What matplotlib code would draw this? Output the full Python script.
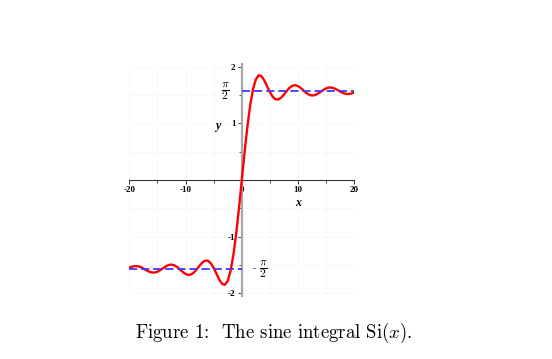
import matplotlib
matplotlib.use("Agg")
import matplotlib.pyplot as plt
from matplotlib.ticker import FixedLocator, FixedFormatter

# Sine integral Si(x), values at 0.5 steps
x_vals = [-20.0, -19.5, -19.0, -18.5, -18.0, -17.5, -17.0, -16.5, -16.0, -15.5,
          -15.0, -14.5, -14.0, -13.5, -13.0, -12.5, -12.0, -11.5, -11.0, -10.5,
          -10.0, -9.5, -9.0, -8.5, -8.0, -7.5, -7.0, -6.5, -6.0, -5.5,
          -5.0, -4.5, -4.0, -3.5, -3.0, -2.5, -2.0, -1.5, -1.0, -0.5,
          0.0, 0.5, 1.0, 1.5, 2.0, 2.5, 3.0, 3.5, 4.0, 4.5,
          5.0, 5.5, 6.0, 6.5, 7.0, 7.5, 8.0, 8.5, 9.0, 9.5,
          10.0, 10.5, 11.0, 11.5, 12.0, 12.5, 13.0, 13.5, 14.0, 14.5,
          15.0, 15.5, 16.0, 16.5, 17.0, 17.5, 18.0, 18.5, 19.0, 19.5, 20.0]
si_vals = [-1.548, -1.528, -1.518, -1.521, -1.536, -1.561, -1.590, -1.616, -1.631, -1.633,
           -1.618, -1.590, -1.556, -1.524, -1.499, -1.492, -1.505, -1.535, -1.578, -1.622,
           -1.658, -1.675, -1.665, -1.630, -1.574, -1.511, -1.455, -1.422, -1.425, -1.469,
           -1.550, -1.654, -1.758, -1.833, -1.849, -1.779, -1.605, -1.325, -0.946, -0.493,
           0.000, 0.493, 0.946, 1.325, 1.605, 1.779, 1.849, 1.833, 1.758, 1.654,
           1.550, 1.469, 1.425, 1.422, 1.455, 1.511, 1.574, 1.630, 1.665, 1.675,
           1.658, 1.622, 1.578, 1.535, 1.505, 1.492, 1.499, 1.524, 1.556, 1.590,
           1.618, 1.633, 1.631, 1.616, 1.590, 1.561, 1.536, 1.521, 1.518, 1.528, 1.548]

# asymptotes  y = +pi/2 (x from 0 to 20), y = -pi/2 (x from -20 to 0)
half_pi = 1.5708
asym_upper_x = [0, 20]
asym_lower_x = [-20, 0]

x_major = [-20, -10, 0, 10, 20]
x_major_labels = ["-20", "-10", "0", "10", "20"]
x_minor = [-15, -5, 5, 15]
y_major = [-2, -1, 1, 2]
y_major_labels = ["-2", "-1", "1", "2"]
y_minor = [-1.5, -0.5, 0.5, 1.5]

caption = "Figure 1:  The sine integral Si$(x)$."

plt.rcParams['axes.unicode_minus'] = False
plt.rcParams['mathtext.fontset'] = 'cm'

fig = plt.figure(figsize=(5.52, 3.59), dpi=100)
W, H = 552, 359
left_px, right_px = 129.3, 354.3
top_px, bot_px = 63.9, 296.2
ax = fig.add_axes([left_px / W, 1 - bot_px / H, (right_px - left_px) / W, (bot_px - top_px) / H])
ax.set_xlim(-20, 20)
ax.set_ylim(-2.05, 2.05)

# faint grid
for gx in [-20, -15, -10, -5, 5, 10, 15, 20]:
    ax.axvline(gx, color='#f7f7f7', lw=0.6, zorder=0)
for gy in [-2, -1.5, -1, -0.5, 0.5, 1, 1.5, 2]:
    ax.axhline(gy, color='#f7f7f7', lw=0.6, zorder=0)

for s in ['top', 'right']:
    ax.spines[s].set_visible(False)
ax.spines['bottom'].set_position(('data', 0))
ax.spines['left'].set_position(('data', 0))
ax.spines['bottom'].set_color('#333333')
ax.spines['bottom'].set_linewidth(0.8)
ax.spines['left'].set_color('#a8a8a8')
ax.spines['left'].set_linewidth(1.6)

ax.xaxis.set_major_locator(FixedLocator(x_major))
ax.xaxis.set_major_formatter(FixedFormatter(x_major_labels))
ax.xaxis.set_minor_locator(FixedLocator(x_minor))
ax.yaxis.set_major_locator(FixedLocator(y_major))
ax.yaxis.set_major_formatter(FixedFormatter(y_major_labels))
ax.yaxis.set_minor_locator(FixedLocator(y_minor))

ax.tick_params(axis='x', which='major', direction='out', length=3, width=0.7, color='#333333', pad=1.5)
ax.tick_params(axis='x', which='minor', direction='out', length=2, width=0.6, color='#333333')
ax.tick_params(axis='y', which='major', direction='out', length=3, width=0.7, color='#333333', pad=1.5)
ax.tick_params(axis='y', which='minor', direction='out', length=2, width=0.6, color='#333333')
for lab in ax.get_xticklabels() + ax.get_yticklabels():
    lab.set_fontfamily('Liberation Serif')
    lab.set_fontweight('bold')
    lab.set_fontsize(6.5)

ax.plot(x_vals, si_vals, color='#ff0000', lw=1.7, zorder=3, solid_capstyle='round')
ax.plot(asym_upper_x, [half_pi, half_pi], color='#3c3cff', lw=1.3, ls=(0, (4.5, 2.2)), zorder=4)
ax.plot(asym_lower_x, [-half_pi, -half_pi], color='#3c3cff', lw=1.3, ls=(0, (4.5, 2.2)), zorder=4)

# pi/2 labels
ax.text(-2.1, half_pi, r"$\dfrac{\pi}{2}$", ha='right', va='center', fontsize=8.5)
ax.text(1.9, -half_pi, "-", ha='left', va='center', fontsize=6.5,
        fontfamily='Liberation Serif')
ax.text(3.1, -half_pi, r"$\dfrac{\pi}{2}$", ha='left', va='center', fontsize=8.5)

# axis labels
ax.text(10, -0.41, "x", ha='center', va='center', fontfamily='Liberation Serif',
        fontweight='bold', fontstyle='italic', fontsize=8.5)
ax.text(-4.2, 0.96, "y", ha='center', va='center', fontfamily='Liberation Serif',
        fontweight='bold', fontstyle='italic', fontsize=8.5)

fig.text(274 / W, 1 - 333 / H, caption, ha='center', va='center', fontsize=13.5,
         fontfamily='cmr10')

fig.savefig("out.png", dpi=100)
